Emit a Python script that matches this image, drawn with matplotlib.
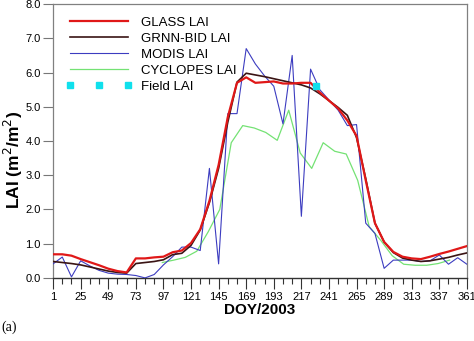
import matplotlib
matplotlib.use("Agg")
import matplotlib.pyplot as plt
from matplotlib.ticker import MultipleLocator, FixedLocator

# 8-day composites
doy = list(range(1, 362, 8))
glass = [0.69, 0.69, 0.65, 0.55, 0.46, 0.37, 0.27, 0.20, 0.16, 0.57,
         0.57, 0.60, 0.62, 0.75, 0.80, 1.02, 1.42, 2.25, 3.30, 4.70,
         5.70, 5.86, 5.70, 5.72, 5.74, 5.68, 5.68, 5.70, 5.70, 5.42,
         5.18, 4.95, 4.60, 4.15, 2.85, 1.60, 1.05, 0.76, 0.62, 0.57,
         0.55, 0.62, 0.70, 0.77, 0.85, 0.93]
grnn = [0.48, 0.45, 0.42, 0.38, 0.32, 0.26, 0.20, 0.16, 0.14, 0.42,
        0.45, 0.48, 0.53, 0.68, 0.72, 0.95, 1.40, 2.20, 3.20, 4.55,
        5.72, 5.98, 5.93, 5.88, 5.82, 5.76, 5.70, 5.64, 5.55, 5.38,
        5.18, 4.98, 4.75, 4.10, 2.90, 1.60, 1.05, 0.74, 0.58, 0.52,
        0.48, 0.50, 0.55, 0.60, 0.67, 0.73]
modis = [0.41, 0.61, 0.03, 0.50, 0.35, 0.22, 0.14, 0.11, 0.10, 0.07,
         0.00, 0.10, 0.38, 0.62, 0.90, 0.90, 0.80, 3.20, 0.41, 4.80,
         4.80, 6.70, 6.25, 5.90, 5.60, 4.50, 6.50, 1.80, 6.10, 5.50,
         5.20, 4.90, 4.45, 4.48, 1.60, 1.30, 0.28, 0.52, 0.52, 0.52,
         0.48, 0.50, 0.67, 0.40, 0.59, 0.40]

# CYCLOPES is a 10-day product
cyc_doy = [96, 106, 116, 126, 136, 146, 156, 166, 176, 186, 196, 206, 216,
           226, 236, 246, 256, 266, 276, 286, 296, 306, 316, 326, 336, 346]
cyclopes = [0.45, 0.52, 0.60, 0.78, 1.35, 2.00, 3.95, 4.45, 4.38, 4.25,
            4.02, 4.90, 3.65, 3.20, 3.95, 3.70, 3.62, 2.85, 1.50, 1.10,
            0.65, 0.40, 0.37, 0.37, 0.42, 0.52]

field_doy = [230]
field_lai = [5.6]

plt.rcParams['font.family'] = ['Liberation Sans', 'DejaVu Sans']

fig = plt.figure(figsize=(4.74, 3.41), dpi=100)
ax = fig.add_axes([0.112, 0.185, 0.873, 0.803])

ax.plot(doy, glass, color='#e01818', lw=1.6, label='GLASS LAI', zorder=5)
ax.plot(doy, grnn, color='#3a1414', lw=1.2, label='GRNN-BID LAI', zorder=4)
ax.plot(doy, modis, color='#3c3cc0', lw=0.8, label='MODIS LAI', zorder=3)
ax.plot(cyc_doy, cyclopes, color='#74e274', lw=0.9, label='CYCLOPES LAI', zorder=2)
ax.plot(field_doy, field_lai, ls='none', marker='s', ms=5, color='#10e0ec',
        label='Field LAI', zorder=6)

ax.set_xlim(1, 361)
ax.set_ylim(0, 8)
ax.xaxis.set_major_locator(FixedLocator(list(range(1, 362, 24))))
ax.xaxis.set_minor_locator(FixedLocator(doy))
ax.yaxis.set_major_locator(MultipleLocator(1.0))
ax.yaxis.set_major_formatter(matplotlib.ticker.FormatStrFormatter('%.1f'))

ax.tick_params(axis='x', which='major', length=8, width=0.8, color='#333333',
               labelsize=8, pad=2)
ax.tick_params(axis='x', which='minor', length=4.5, width=0.8, color='#333333')
ax.tick_params(axis='y', which='major', length=7, width=0.8, color='#777777',
               labelsize=8, pad=2)

for s in ['top', 'right', 'left']:
    ax.spines[s].set_color('#808080')
    ax.spines[s].set_linewidth(0.9)
ax.spines['bottom'].set_color('#333333')
ax.spines['bottom'].set_linewidth(1.0)

ax.set_xlabel('DOY/2003', fontsize=11, fontweight='bold', labelpad=1)
ax.set_ylabel('LAI (m$^2$/m$^2$)', fontsize=12.5, fontweight='bold')
ax.yaxis.set_label_coords(-0.068, 0.43)

ax.legend(loc='upper left', frameon=False, fontsize=9.5, numpoints=3,
          handlelength=5.0, handletextpad=0.75, labelspacing=0.28,
          bbox_to_anchor=(0.0, 1.0), borderaxespad=0.55)

fig.text(0.003, 0.03, '(a)', fontsize=10, family='Liberation Serif')

fig.savefig('out.png', dpi=100)
